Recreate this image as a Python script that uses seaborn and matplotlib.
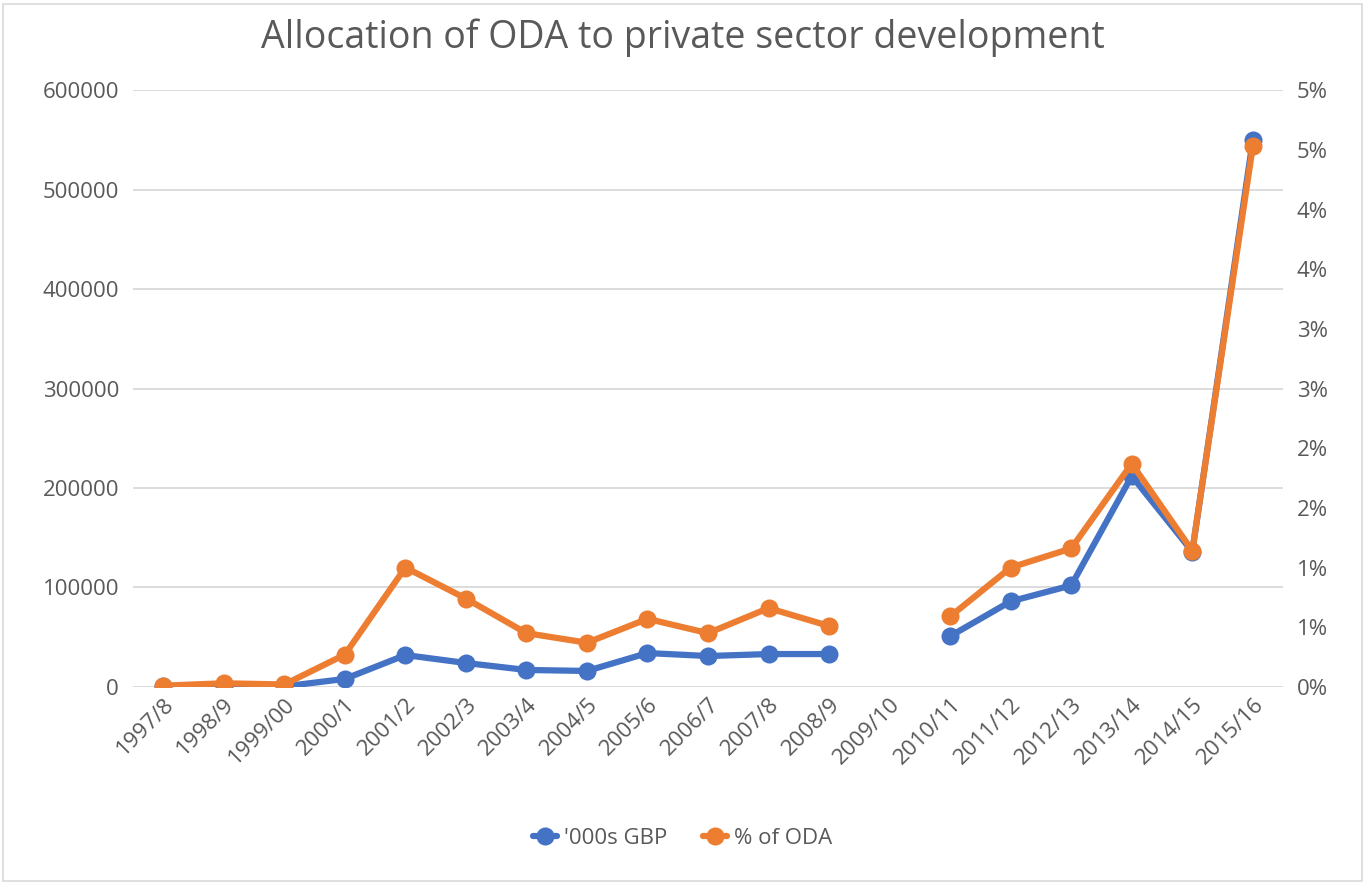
import numpy as np
import pandas as pd
import matplotlib
matplotlib.use('Agg')
import matplotlib.pyplot as plt
import seaborn as sns
from matplotlib.lines import Line2D
from matplotlib.ticker import FuncFormatter

years = ["1997/8", "1998/9", "1999/00", "2000/1", "2001/2", "2002/3", "2003/4",
         "2004/5", "2005/6", "2006/7", "2007/8", "2008/9", "2009/10", "2010/11",
         "2011/12", "2012/13", "2013/14", "2014/15", "2015/16"]
gbp = [500, 1000, 500, 8000, 32000, 24000, 17000, 16000, 34000, 31000, 33000,
       33000, np.nan, 51000, 86000, 102000, 212000, 136000, 550000]
pct_oda = [0.01, 0.03, 0.02, 0.27, 1.00, 0.74, 0.45, 0.37, 0.57, 0.45, 0.66,
           0.51, np.nan, 0.59, 1.00, 1.16, 1.87, 1.14, 4.53]

BLUE = "#4472C4"
ORANGE = "#ED7D31"
GREY = "#595959"

sns.set_theme(style="white")
plt.rcParams['font.family'] = ['Open Sans', 'DejaVu Sans']

df = pd.DataFrame({"x": np.arange(len(years)), "gbp": gbp, "pct": pct_oda})
df["seg"] = (df["gbp"].isna()).cumsum()
df = df.dropna()

fig = plt.figure(figsize=(13.65, 8.84), dpi=100)
ax = fig.add_axes([0.0974, 0.223, 0.8426, 0.675])
ax2 = ax.twinx()

sns.lineplot(data=df, x="x", y="gbp", units="seg", estimator=None, ax=ax,
             color=BLUE, lw=4.5, marker="o", markersize=13, markeredgewidth=0)
sns.lineplot(data=df, x="x", y="pct", units="seg", estimator=None, ax=ax2,
             color=ORANGE, lw=4.5, marker="o", markersize=13, markeredgewidth=0)

ax.set_xlim(-0.5, len(years) - 0.5)
ax.set_ylim(0, 600000)
ax2.set_ylim(0, 5)
ax.set_yticks(np.arange(0, 600001, 100000))
ax2.set_yticks(np.arange(0, 5.01, 0.5))
ax2.yaxis.set_major_formatter(FuncFormatter(lambda v, p: f"{int(np.floor(v + 0.5))}%"))
ax.set_xticks(range(len(years)))
ax.set_xticklabels(years, rotation=45, ha="right", rotation_mode="anchor")

ax.grid(axis="y", color="#D9D9D9", lw=1.3)
ax.set_axisbelow(True)
for a in (ax, ax2):
    for s in a.spines.values():
        s.set_visible(False)
    a.set_xlabel("")
    a.set_ylabel("")
    a.tick_params(length=0, labelsize=16, colors=GREY, pad=10)
ax.tick_params(axis="x", pad=5)

fig.text(0.5, 0.957, "Allocation of ODA to private sector development",
         ha="center", va="center", fontsize=27, color=GREY)

handles = [Line2D([], [], color=BLUE, lw=4.5, marker="o", markersize=13, markeredgewidth=0),
           Line2D([], [], color=ORANGE, lw=4.5, marker="o", markersize=13, markeredgewidth=0)]
fig.legend(handles, ["'000s GBP", "% of ODA"], loc="center", bbox_to_anchor=(0.5, 0.052),
           ncol=2, frameon=False, fontsize=16, labelcolor=GREY, handlelength=1.1,
           columnspacing=1.6, handletextpad=0.3)

fig.patches.append(plt.Rectangle((0.002, 0.003), 0.996, 0.992, transform=fig.transFigure,
                                 fill=False, edgecolor="#D9D9D9", lw=1.2))

fig.savefig("out.png", dpi=100)
